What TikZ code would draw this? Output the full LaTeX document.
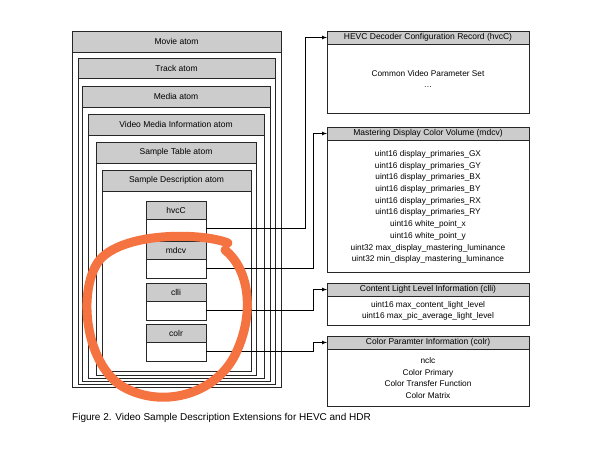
\documentclass[tikz,border=0pt]{standalone}
\usepackage{fontspec}
\setmainfont{Liberation Sans}
\begin{document}
\begin{tikzpicture}[x=1pt,y=-1pt,
  frame/.style={draw=black!85,line width=0.8pt},
  hdr/.style={draw=black!85,line width=0.8pt,fill=black!20},
  txt/.style={font=\fontsize{8.5}{10}\selectfont,inner sep=0pt},
  body/.style={align=center,inner sep=0pt,font=\fontsize{8.3}{11.7}\selectfont},
  conn/.style={draw=black,line width=0.7pt,-latex}]
\useasboundingbox (0,0) rectangle (600,454);
\fill[white] (0,0) rectangle (600,454);
\foreach \n/\xa/\xb/\ya/\yb/\yc/\t in {mov/72/281/31/52/387/Movie atom,trk/78/275/58/78/384/Track atom,med/82/270/86/107/381/Media atom,vmi/88/264/114/135/378/Video Media Information atom,stb/96/256/142/163/375/Sample Table atom,sd/102/251/170/191/371/Sample Description atom}{
  \draw[frame] (\xa,\ya) rectangle (\xb,\yc);
  \draw[hdr] (\xa,\ya) rectangle (\xb,\yb);
  \node[txt] (\n) at ({(\xa+\xb)/2},{(\ya+\yb)/2}) {\t};
}
\foreach \n/\ya/\t in {hv/201/hvcC,md/241/mdcv,cl/283/clli,co/324/colr}{
  \draw[frame] (146,\ya) rectangle (206,\ya+37);
  \draw[hdr] (146,\ya) rectangle (206,\ya+18);
  \node[txt] (\n) at (176,\ya+9) {\t};
  \coordinate (\n o) at (206,\ya+27);
}
\draw[frame] (327,31) rectangle (529,113);
\draw[hdr] (327,31) rectangle (529,44);
\node[txt] (rhv) at (428,37.5) {HEVC Decoder Configuration Record (hvcC)};
\node[body] at (428,79) {Common Video Parameter Set\\\ldots};
\draw[frame] (327,127) rectangle (529,272);
\draw[hdr] (327,127) rectangle (529,140);
\node[txt] (rmd) at (428,133.5) {Mastering Display Color Volume (mdcv)};
\node[body] at (428,207) {uint16 display\_primaries\_GX\\uint16 display\_primaries\_GY\\uint16 display\_primaries\_BX\\uint16 display\_primaries\_BY\\uint16 display\_primaries\_RX\\uint16 display\_primaries\_RY\\uint16 white\_point\_x\\uint16 white\_point\_y\\uint32 max\_display\_mastering\_luminance\\uint32 min\_display\_mastering\_luminance};
\draw[frame] (327,283) rectangle (529,325);
\draw[hdr] (327,283) rectangle (529,296);
\node[txt] (rcl) at (428,289.5) {Content Light Level Information (clli)};
\node[body] at (428,311) {uint16 max\_content\_light\_level\\uint16 max\_pic\_average\_light\_level};
\draw[frame] (327,336) rectangle (529,406);
\draw[hdr] (327,336) rectangle (529,349);
\node[txt] (rco) at (428,342.5) {Color Paramter Information (colr)};
\node[body] at (428,378) {nclc\\Color Primary\\Color Transfer Function\\Color Matrix};
\coordinate (ahv) at (327,37.5);
\coordinate (amd) at (327,133.5);
\coordinate (acl) at (327,289.5);
\coordinate (aco) at (327,342.5);
\draw[conn] (hvo) -| (305,37.5) -- (ahv);
\draw[conn] (mdo) -| (313,133.5) -- (amd);
\draw[conn] (clo) -| (313,289.5) -- (acl);
\draw[conn] (coo) -| (313,342.5) -- (aco);
\node[inner sep=0pt,font=\fontsize{10}{12}\selectfont,anchor=west] (cap) at (72,418) {Figure 2. Video Sample Description Extensions for HEVC and HDR};
\draw[line width=9pt,color={rgb,255:red,245;green,115;blue,65},line cap=round]
 (228,243) .. controls (200,232) and (120,232) .. (98,262)
 .. controls (78,292) and (85,360) .. (120,385)
 .. controls (160,410) and (215,395) .. (235,355)
 .. controls (255,315) and (250,270) .. (225,250);
\end{tikzpicture}
\end{document}
